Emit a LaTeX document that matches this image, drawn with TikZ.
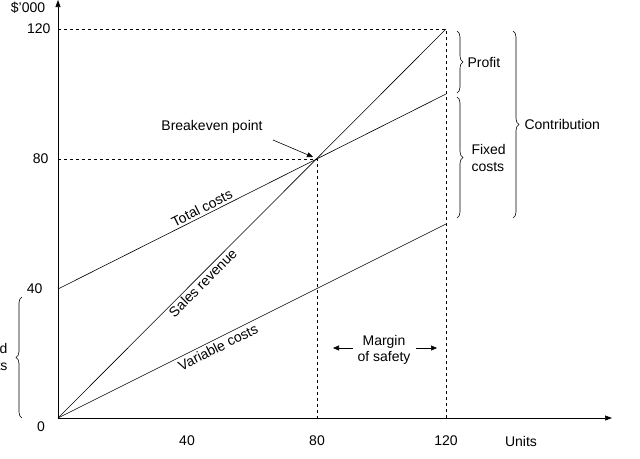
\documentclass[tikz,border=0pt]{standalone}
\usepackage{fontspec}
\setmainfont{Liberation Sans}
\usetikzlibrary{arrows.meta,decorations.pathreplacing}
\begin{document}
\begin{tikzpicture}[x=1pt,y=-1pt,
  every node/.style={font=\fontsize{14}{16.5}\selectfont},
  ln/.style={line width=0.6pt},
  dsh/.style={dashed,line width=0.5pt},
  brc/.style={decorate,decoration={brace,amplitude=6pt},line width=0.6pt},
  lbl/.style={inner sep=1.5pt}]
\useasboundingbox (0,0) rectangle (640,458);
\clip (0,0) rectangle (640,458);
\coordinate (O) at (58,418);
\coordinate (Ytop) at (58,0);
\coordinate (Xend) at (612,418);
\coordinate (R) at (446,29);
\coordinate (T0) at (58,289);
\coordinate (T) at (446,94);
\coordinate (V) at (446,224);
\coordinate (B) at (317,159);
\coordinate (Y120) at (58,29);
\coordinate (Y80) at (58,159);
\coordinate (X80) at (317,418);
\coordinate (X120) at (446,418);
\draw[ln,-{Triangle[length=7pt,width=5pt]}] (O) -- (Ytop);
\draw[ln,-{Triangle[length=7pt,width=5pt]}] (O) -- (Xend);
\draw[ln] (O) -- (R);
\draw[ln] (T0) -- (T);
\draw[ln] (O) -- (V);
\draw[dsh] (Y120) -- (R) -- (X120);
\draw[dsh] (Y80) -- (B) -- (X80);
\node[anchor=east] (l120) at (54,29) {120};
\node[anchor=east] (l80) at (52,159) {80};
\node[anchor=east] (l40) at (46,289) {40};
\node (l0) at (41,427) {0};
\node (unit) at (28,8) {\$'000};
\node (x40) at (187,441) {40};
\node (x80) at (317,441) {80};
\node (x120) at (446,441) {120};
\node (xu) at (521,441) {Units};
\node[lbl,rotate=26.6,anchor=south] (tc) at (205,214) {Total costs};
\node[lbl,rotate=45,anchor=north] (sr) at (198,278) {Sales revenue};
\node[lbl,rotate=26.6,anchor=north] (vc) at (215,341) {Variable costs};
\node (be) at (212,127) {Breakeven point};
\draw[ln,-{Triangle[length=6pt,width=5pt]}] (273,140) -- (313,157);
\node[align=center] (ms) at (384,350) {Margin\\of safety};
\coordinate (ma) at (333,348); \coordinate (mb) at (437,348);
\draw[ln,-{Triangle[length=6pt,width=5pt]}] (353,348) -- (ma);
\draw[ln,-{Triangle[length=6pt,width=5pt]}] (416,348) -- (mb);
\draw[brc] (457,31) -- (457,93);
\node[anchor=west] (pf) at (464,62) {Profit};
\draw[brc] (457,97) -- (457,218);
\node[anchor=west,align=left] (fc) at (468,158) {Fixed\\costs};
\draw[brc] (513,31) -- (513,218);
\node[anchor=west] (ct) at (521,124) {Contribution};
\draw[brc] (22,418) -- (22,297);
\node[anchor=east,align=right] (ff) at (11,357) {Fixed\\costs};
\end{tikzpicture}
\end{document}
